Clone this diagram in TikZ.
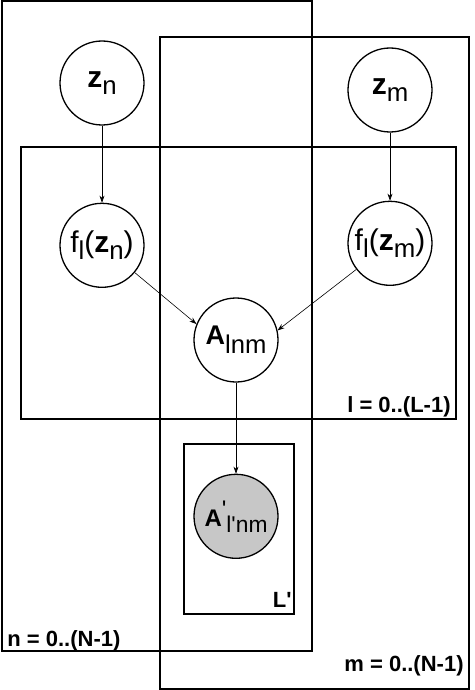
\documentclass[tikz,border=0pt]{standalone}
\usepackage{fontspec}
\setmainfont{Liberation Sans}
\usetikzlibrary{positioning,arrows.meta}

% lowered subscript in text mode
\newcommand{\lowsub}[2][0.86]{\raisebox{-0.22em}{\scalebox{#1}{#2}}}
\newcommand{\qs}{\textquotesingle}

\begin{document}
\begin{tikzpicture}[x=1pt, y=-1pt, thick]
    % Styles
    \tikzstyle{var} = [circle, draw, fill=white, line width=1.3pt, minimum size=84pt, inner sep=0pt, font=\fontsize{30}{32}\selectfont]
    \tikzstyle{obs} = [var, fill=black!22, font=\fontsize{24}{26}\selectfont]
    \tikzstyle{plate} = [rectangle, draw, line width=1.6pt, inner sep=0pt]
    \tikzstyle{plate_label} = [inner sep=0pt, font=\fontsize{22}{24}\selectfont\bfseries]
    \tikzstyle{arrow} = [-{Stealth[length=7pt, width=5pt]}, line width=0.6pt]

    \useasboundingbox (0,0) rectangle (474,690);

    % Plates
    \node [plate, minimum width=310pt, minimum height=650pt] (plate_n) at (157,326) {};
    \node [plate, minimum width=309pt, minimum height=652pt] (plate_m) at (314.5,363) {};
    \node [plate, minimum width=435pt, minimum height=272pt] (plate_l) at (238.5,283) {};
    \node [plate, minimum width=110pt, minimum height=170pt] (plate_lp) at (239,529) {};

    % Variables
    \node [var] (zn) at (102,83) {\textbf{z}\lowsub{n}};
    \node [var] (zm) at (390,90) {\textbf{z}\lowsub{m}};
    \node [var, below=77pt of zn] (fn) {f\lowsub{l}(\textbf{z}\lowsub{n})};
    \node [var, below=68pt of zm] (fm) {f\lowsub{l}(\textbf{z}\lowsub{m})};
    \node [var, font=\fontsize{27}{29}\selectfont] (A) at (236,340) {\textbf{A}\raisebox{-0.1em}{\lowsub[0.95]{lnm}}};
    \node [obs, below=91pt of A] (Ap) {\textbf{A}\raisebox{0.4em}{\qs}\lowsub[0.95]{l\qs nm}};

    % Connections
    \draw [arrow] (zn) -- (fn);
    \draw [arrow] (zm) -- (fm);
    \draw [arrow] (fn) -- (A.158);
    \draw [arrow] (fm) -- (A.13);
    \draw [arrow] (A) -- (Ap);

    % Labels
    \node [plate_label, anchor=base west] (lab_n) at (7,646) {n = 0..(N-1)};
    \node [plate_label, anchor=base east] (lab_l) at (451,412) {l = 0..(L-1)};
    \node [plate_label, anchor=base east] (lab_m) at (464,671) {m = 0..(N-1)};
    \node [plate_label, anchor=base east] (lab_lp) at (292,607) {L\qs};

\end{tikzpicture}
\end{document}
